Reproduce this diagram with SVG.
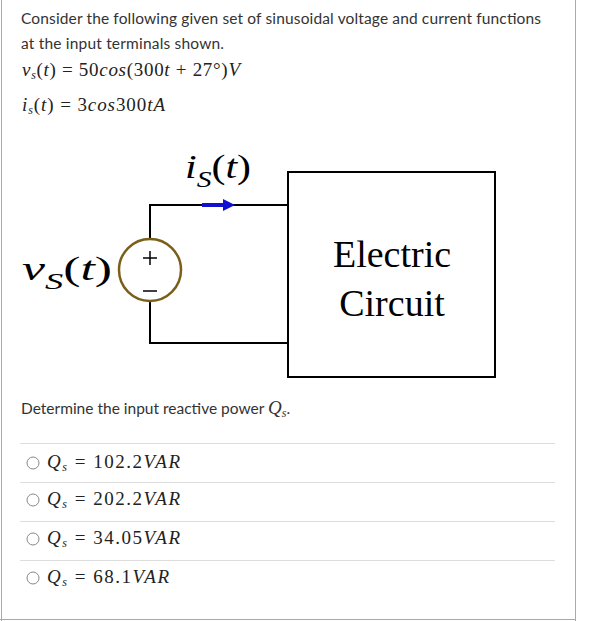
<svg xmlns="http://www.w3.org/2000/svg" width="606" height="621" viewBox="0 0 606 621">
<style>
.t{font-family:Lato,"Liberation Sans",sans-serif;font-size:15.5px;fill:#333}
.m{font-family:"Liberation Serif",serif;font-size:19px;fill:#222}
.mi{font-style:italic}
.w{stroke:#000;stroke-width:2;fill:none}
.sep{stroke:#ddd;stroke-width:1}
.r{fill:#fff;stroke:#888;stroke-width:1}
</style>
<rect x="0" y="0" width="606" height="621" fill="#fff"/>
<line x1="1.5" y1="0" x2="1.5" y2="621" stroke="#aaa"/>
<line x1="575.5" y1="0" x2="575.5" y2="621" stroke="#aaa"/>
<line x1="0" y1="619.5" x2="576" y2="619.5" stroke="#aaa"/>
<text class="t" x="21" y="24" textLength="520" lengthAdjust="spacing">Consider the following given set of sinusoidal voltage and current functions</text>
<text class="t" x="21" y="49" textLength="203" lengthAdjust="spacing">at the input terminals shown.</text>
<text class="m" x="22" y="76" textLength="218" lengthAdjust="spacing"><tspan class="mi">v</tspan><tspan font-size="12" class="mi" dy="3">s</tspan><tspan dy="-3">(</tspan><tspan class="mi">t</tspan>) = 50<tspan class="mi">cos</tspan>(300<tspan class="mi">t</tspan> + 27°)<tspan class="mi">V</tspan></text>
<text class="m" x="22" y="111" textLength="143" lengthAdjust="spacing"><tspan class="mi">i</tspan><tspan font-size="12" class="mi" dy="3">s</tspan><tspan dy="-3">(</tspan><tspan class="mi">t</tspan>) = 3<tspan class="mi">cos</tspan>300<tspan class="mi">tA</tspan></text>
<g id="connectors">
<polyline class="w" points="288,205 150,205 150,239"/>
<polyline class="w" points="150,301 150,343 288,343"/>
<line x1="202" y1="205" x2="226" y2="205" stroke="#1010d0" stroke-width="4"/>
<polygon points="223,199 235,205 223,211" fill="#1010d0"/>
</g>
<g id="source">
<circle cx="150" cy="270" r="31" fill="none" stroke="#7a5f1a" stroke-width="2.5"/>
<line x1="143" y1="258" x2="157" y2="258" stroke="#000" stroke-width="1.5"/>
<line x1="150" y1="251" x2="150" y2="265" stroke="#000" stroke-width="1.5"/>
<line x1="143" y1="291" x2="157" y2="291" stroke="#000" stroke-width="1.5"/>
<text x="22" y="280" textLength="90" lengthAdjust="spacingAndGlyphs" font-family="Liberation Serif,serif" font-size="34" font-style="italic" fill="#000">v<tspan font-size="24" dy="9">S</tspan><tspan dy="-9" font-style="normal">(</tspan>t<tspan font-style="normal">)</tspan></text>
<text x="185" y="178" textLength="66" lengthAdjust="spacingAndGlyphs" font-family="Liberation Serif,serif" font-size="34" font-style="italic" fill="#000">i<tspan font-size="24" dy="9">S</tspan><tspan dy="-9" font-style="normal">(</tspan>t<tspan font-style="normal">)</tspan></text>
</g>
<g id="circuit">
<rect x="288" y="172" width="207" height="205" class="w"/>
<text x="392" y="267" text-anchor="middle" font-family="Liberation Serif,serif" font-size="38" fill="#000">Electric</text>
<text x="392" y="316" text-anchor="middle" font-family="Liberation Serif,serif" font-size="38" fill="#000">Circuit</text>
</g>
<text class="t" x="21" y="414">Determine the input reactive power <tspan font-family="Liberation Serif,serif" font-style="italic" font-size="19">Q</tspan><tspan font-family="Liberation Serif,serif" font-style="italic" font-size="12" dy="3">s</tspan><tspan dy="-3">.</tspan></text>
<line class="sep" x1="20" y1="443.5" x2="555" y2="443.5"/>
<line class="sep" x1="20" y1="482.5" x2="555" y2="482.5"/>
<line class="sep" x1="20" y1="521.5" x2="555" y2="521.5"/>
<line class="sep" x1="20" y1="560.5" x2="555" y2="560.5"/>
<circle class="r" cx="33" cy="463" r="6"/>
<circle class="r" cx="33" cy="500" r="6"/>
<circle class="r" cx="33" cy="539" r="6"/>
<circle class="r" cx="33" cy="578" r="6"/>
<text class="m" x="47" y="468" textLength="133" lengthAdjust="spacing"><tspan class="mi">Q</tspan><tspan font-size="12" class="mi" dy="3">s</tspan><tspan dy="-3"> = 102.2</tspan><tspan class="mi">VAR</tspan></text>
<text class="m" x="47" y="505" textLength="133" lengthAdjust="spacing"><tspan class="mi">Q</tspan><tspan font-size="12" class="mi" dy="3">s</tspan><tspan dy="-3"> = 202.2</tspan><tspan class="mi">VAR</tspan></text>
<text class="m" x="47" y="544" textLength="133" lengthAdjust="spacing"><tspan class="mi">Q</tspan><tspan font-size="12" class="mi" dy="3">s</tspan><tspan dy="-3"> = 34.05</tspan><tspan class="mi">VAR</tspan></text>
<text class="m" x="47" y="583" textLength="122" lengthAdjust="spacing"><tspan class="mi">Q</tspan><tspan font-size="12" class="mi" dy="3">s</tspan><tspan dy="-3"> = 68.1</tspan><tspan class="mi">VAR</tspan></text>
</svg>
